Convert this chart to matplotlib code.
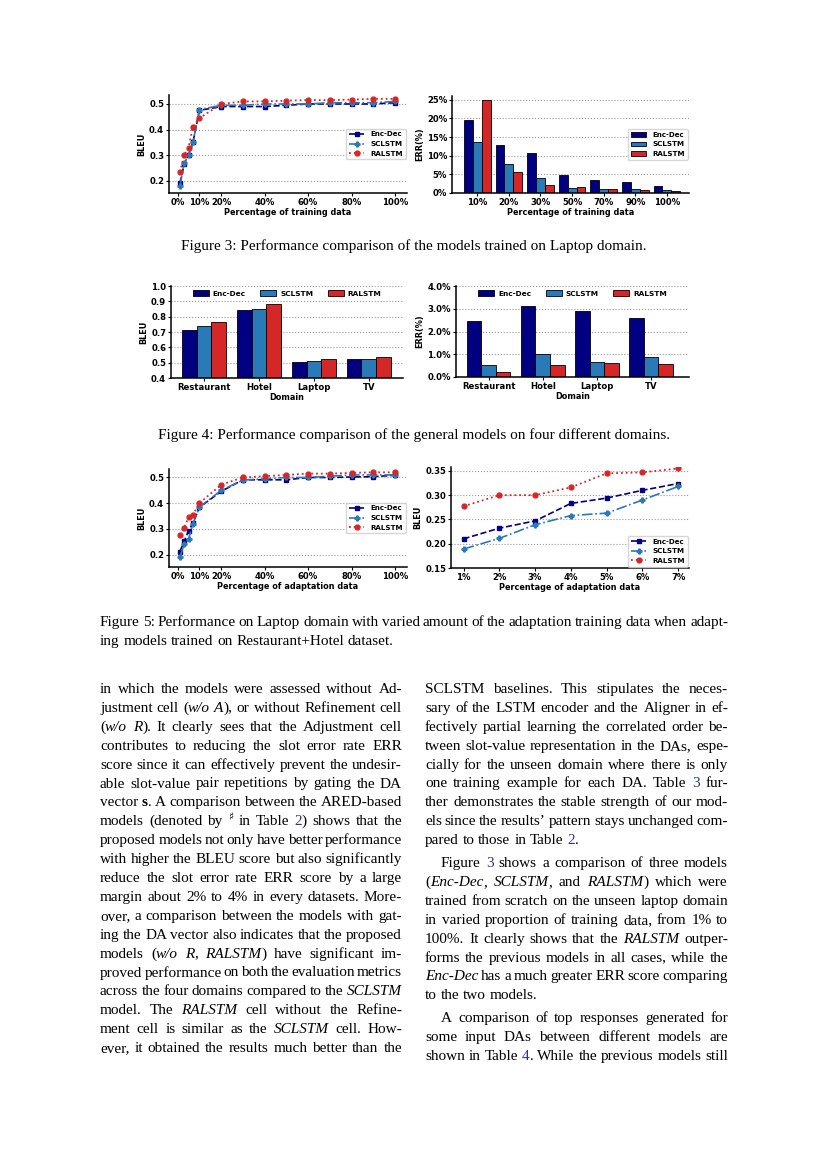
import matplotlib
matplotlib.use('Agg')
import matplotlib.pyplot as plt
from matplotlib.ticker import FuncFormatter

W, H = 826, 1169

# ---------------- data ----------------
models = ['Enc-Dec', 'SCLSTM', 'RALSTM']

# Figure 3 left: BLEU vs percentage of training data (Laptop)
train_pct = [1, 3, 5, 7, 10, 20, 30, 40, 50, 60, 70, 80, 90, 100]
f3_bleu_encdec = [0.191, 0.265, 0.300, 0.350, 0.475, 0.490, 0.490, 0.490, 0.495, 0.500, 0.500, 0.500, 0.500, 0.505]
f3_bleu_sclstm = [0.180, 0.270, 0.300, 0.350, 0.478, 0.495, 0.495, 0.500, 0.500, 0.500, 0.505, 0.505, 0.505, 0.510]
f3_bleu_ralstm = [0.235, 0.300, 0.330, 0.410, 0.445, 0.500, 0.510, 0.510, 0.513, 0.515, 0.515, 0.517, 0.520, 0.520]

# Figure 3 right: ERR vs percentage of training data
err_pct_labels = ['10%', '20%', '30%', '50%', '70%', '90%', '100%']
f3_err_encdec = [19.6, 12.9, 10.7, 4.9, 3.5, 2.85, 2.0]
f3_err_sclstm = [13.7, 7.8, 4.0, 1.25, 1.2, 1.0, 0.7]
f3_err_ralstm = [24.8, 5.6, 2.1, 1.5, 1.2, 0.7, 0.5]

# Figure 4: general models on four domains
domains = ['Restaurant', 'Hotel', 'Laptop', 'TV']
f4_bleu_encdec = [0.712, 0.841, 0.504, 0.522]
f4_bleu_sclstm = [0.741, 0.850, 0.513, 0.526]
f4_bleu_ralstm = [0.763, 0.880, 0.524, 0.537]
f4_err_encdec = [2.46, 3.11, 2.92, 2.59]
f4_err_sclstm = [0.52, 0.99, 0.68, 0.90]
f4_err_ralstm = [0.23, 0.51, 0.60, 0.57]

# Figure 5 left: BLEU vs percentage of adaptation data
adapt_pct = [1, 3, 5, 7, 10, 20, 30, 40, 50, 60, 70, 80, 90, 100]
f5_bleu_encdec = [0.212, 0.252, 0.293, 0.323, 0.384, 0.446, 0.491, 0.491, 0.491, 0.500, 0.500, 0.502, 0.503, 0.509]
f5_bleu_sclstm = [0.190, 0.240, 0.260, 0.320, 0.385, 0.450, 0.490, 0.495, 0.500, 0.500, 0.505, 0.510, 0.510, 0.510]
f5_bleu_ralstm = [0.277, 0.305, 0.345, 0.355, 0.400, 0.472, 0.500, 0.505, 0.510, 0.515, 0.515, 0.518, 0.520, 0.520]

# Figure 5 right: BLEU for 1%..7% adaptation data
small_pct = [1, 2, 3, 4, 5, 6, 7]
f5s_bleu_encdec = [0.210, 0.232, 0.247, 0.283, 0.294, 0.310, 0.324]
f5s_bleu_sclstm = [0.189, 0.211, 0.239, 0.258, 0.263, 0.290, 0.318]
f5s_bleu_ralstm = [0.277, 0.300, 0.300, 0.316, 0.345, 0.347, 0.355]

# ---------------- page text ----------------
caption3 = "Figure 3: Performance comparison of the models trained on Laptop domain."
caption4 = "Figure 4: Performance comparison of the general models on four different domains."
caption5 = ["Figure 5: Performance on Laptop domain with varied amount of the adaptation training data when adapt-",
            "ing models trained on Restaurant+Hotel dataset."]

# markup: ~ italic, ^ bold, @ link colour, # superscript sharp
left_col = [
    "in which the models were assessed without Ad-",
    "justment cell (~w/o A~), or without Refinement cell",
    "(~w/o R~). It clearly sees that the Adjustment cell",
    "contributes to reducing the slot error rate ERR",
    "score since it can effectively prevent the undesir-",
    "able slot-value pair repetitions by gating the DA",
    "vector ^s^. A comparison between the ARED-based",
    "models (denoted by # in Table @2@) shows that the",
    "proposed models not only have better performance",
    "with higher the BLEU score but also significantly",
    "reduce the slot error rate ERR score by a large",
    "margin about 2% to 4% in every datasets. More-",
    "over, a comparison between the models with gat-",
    "ing the DA vector also indicates that the proposed",
    "models (~w/o R~, ~RALSTM~) have significant im-",
    "proved performance on both the evaluation metrics",
    "across the four domains compared to the ~SCLSTM~",
    "model. The ~RALSTM~ cell without the Refine-",
    "ment cell is similar as the ~SCLSTM~ cell. How-",
    "ever, it obtained the results much better than the",
]
right_col = [
    ["SCLSTM baselines. This stipulates the neces-",
     "sary of the LSTM encoder and the Aligner in ef-",
     "fectively partial learning the correlated order be-",
     "tween slot-value representation in the DAs, espe-",
     "cially for the unseen domain where there is only",
     "one training example for each DA. Table @3@ fur-",
     "ther demonstrates the stable strength of our mod-",
     "els since the results\u2019 pattern stays unchanged com-",
     "pared to those in Table @2@."],
    ["Figure @3@ shows a comparison of three models",
     "(~Enc-Dec~, ~SCLSTM~, and ~RALSTM~) which were",
     "trained from scratch on the unseen laptop domain",
     "in varied proportion of training data, from 1% to",
     "100%. It clearly shows that the ~RALSTM~ outper-",
     "forms the previous models in all cases, while the",
     "~Enc-Dec~ has a much greater ERR score comparing",
     "to the two models."],
    ["A comparison of top responses generated for",
     "some input DAs between different models are",
     "shown in Table @4@. While the previous models still"],
]

plt.rcParams['font.weight'] = 'bold'
plt.rcParams['axes.labelweight'] = 'bold'

fig = plt.figure(figsize=(W / 100, H / 100), dpi=100)
renderer = fig.canvas.get_renderer()

SERIF = ['Liberation Serif', 'DejaVu Serif']
LINK = '#2f2f94'
BODY_FS = 11


def parse_line(line):
    """Split a marked-up line into styled pieces: (text, italic, bold, link, sharp, space_before)"""
    pieces = []
    it = bd = lk = False
    first = True
    for word in line.split(' '):
        if word == '':
            continue
        space = not first
        first = False
        buf = ''
        for ch in word:
            if ch in '~^@#':
                if buf:
                    pieces.append((buf, it, bd, lk, False, space))
                    space = False
                    buf = ''
                if ch == '~':
                    it = not it
                elif ch == '^':
                    bd = not bd
                elif ch == '@':
                    lk = not lk
                else:
                    pieces.append(('\u266f', False, False, False, True, space))
                    space = False
            else:
                buf += ch
        if buf:
            pieces.append((buf, it, bd, lk, False, space))
    return pieces


def draw_line(line, x0, x1, y, justify=True, fs=BODY_FS):
    pieces = parse_line(line)
    texts = []
    for txt, it, bd, lk, sharp, sp in pieces:
        if sharp:
            t = fig.text(0, 0, txt, fontsize=fs * 0.7, family=['DejaVu Sans'],
                         fontweight='normal', va='baseline', ha='left')
        else:
            t = fig.text(0, 0, txt, fontsize=fs, family=SERIF,
                         fontstyle='italic' if it else 'normal',
                         fontweight='bold' if bd else 'normal',
                         color=LINK if lk else 'black', va='baseline', ha='left')
        texts.append(t)
    widths = [t.get_window_extent(renderer).width for t in texts]
    nsp = sum(1 for p in pieces if p[5])
    gap = fs * 100 / 72 * 0.25
    if justify and nsp > 0:
        gap = (x1 - x0 - sum(widths)) / nsp
    x = x0
    for t, w, p in zip(texts, widths, pieces):
        if p[5]:
            x += gap
        dy = -5 if p[4] else 0
        t.set_position((x / W, 1 - (y + dy) / H))
        x += w


# body text: left column
LINE = 18.9
for i, line in enumerate(left_col):
    draw_line(line, 100, 402, 693 + i * LINE)

# body text: right column with paragraphs
y = 693
for pi, para in enumerate(right_col):
    for li, line in enumerate(para):
        last = li == len(para) - 1 and pi < len(right_col) - 1
        x0 = 441 if (li == 0 and pi > 0) else 425
        draw_line(line, x0, 728, y, justify=not last)
        y += LINE
    y += 4

# captions
fig.text(414 / W, 1 - 250 / H, caption3, fontsize=BODY_FS, family=SERIF,
         fontweight='normal', ha='center', va='baseline')
fig.text(414 / W, 1 - 439 / H, caption4, fontsize=BODY_FS, family=SERIF,
         fontweight='normal', ha='center', va='baseline')
draw_line(caption5[0], 100, 728, 626)
draw_line(caption5[1], 100, 728, 645, justify=False)

# ---------------- charts ----------------
C_ENC = '#000080'
C_SC = '#2a7ab8'
C_RA = '#d62728'
TFS = 6.1
XFS = 5.9
LFS = 5.1


def add_ax(l, t, r, b):
    return fig.add_axes([l / W, 1 - b / H, (r - l) / W, (b - t) / H])


def style_ax(ax):
    ax.spines['top'].set_visible(False)
    ax.spines['right'].set_visible(False)
    ax.spines['left'].set_linewidth(1.1)
    ax.spines['bottom'].set_linewidth(1.1)
    ax.yaxis.grid(True, linestyle=':', color='#9a9a9a', linewidth=0.8)
    ax.set_axisbelow(True)
    ax.tick_params(labelsize=TFS, length=2, width=0.8, pad=1.5)


def plot_lines(ax, x, enc, sc, ra):
    ax.plot(x, enc, '--', color=C_ENC, marker='s', markersize=3.0, linewidth=1.2, label=models[0])
    ax.plot(x, sc, '-.', color=C_SC, marker='P', markersize=3.5, linewidth=1.2, label=models[1])
    ax.plot(x, ra, ':', color=C_RA, marker='o', markersize=3.5, linewidth=1.3, label=models[2])


def plot_bars(ax, enc, sc, ra, w):
    xs = range(len(enc))
    ax.bar([i - w for i in xs], enc, w, color=C_ENC, edgecolor='black', linewidth=0.6, label=models[0])
    ax.bar([i for i in xs], sc, w, color=C_SC, edgecolor='black', linewidth=0.6, label=models[1])
    ax.bar([i + w for i in xs], ra, w, color=C_RA, edgecolor='black', linewidth=0.6, label=models[2])


pct_fmt = FuncFormatter(lambda v, p: '%d%%' % v)

# Figure 3 left
ax = add_ax(169, 95, 407, 193)
style_ax(ax)
plot_lines(ax, train_pct, f3_bleu_encdec, f3_bleu_sclstm, f3_bleu_ralstm)
ax.set_xlim(-4, 105.5)
ax.set_ylim(0.153, 0.535)
ax.set_xticks([0, 10, 20, 40, 60, 80, 100])
ax.xaxis.set_major_formatter(pct_fmt)
ax.set_yticks([0.2, 0.3, 0.4, 0.5])
ax.set_xlabel('Percentage of training data', fontsize=XFS, labelpad=1)
ax.set_ylabel('BLEU', fontsize=XFS, labelpad=2)
ax.legend(loc='center right', fontsize=LFS, borderaxespad=0.2, handlelength=2.2)

# Figure 3 right
ax = add_ax(452, 96, 689, 193)
style_ax(ax)
plot_bars(ax, f3_err_encdec, f3_err_sclstm, f3_err_ralstm, 0.28)
ax.set_xlim(-0.8, 6.7)
ax.set_ylim(0, 26)
ax.set_xticks(range(len(err_pct_labels)))
ax.set_xticklabels(err_pct_labels)
ax.set_yticks([0, 5, 10, 15, 20, 25])
ax.yaxis.set_major_formatter(pct_fmt)
ax.set_xlabel('Percentage of training data', fontsize=XFS, labelpad=1)
ax.set_ylabel('ERR(%)', fontsize=XFS, labelpad=2)
ax.legend(loc='center right', fontsize=LFS, borderaxespad=0.2, handlelength=2.2)

# Figure 4 left
ax = add_ax(171, 286, 403, 378)
style_ax(ax)
plot_bars(ax, f4_bleu_encdec, f4_bleu_sclstm, f4_bleu_ralstm, 0.27)
ax.set_xlim(-0.6, 3.62)
ax.set_ylim(0.4, 1.0)
ax.set_xticks(range(len(domains)))
ax.set_xticklabels(domains)
ax.set_yticks([0.4, 0.5, 0.6, 0.7, 0.8, 0.9, 1.0])
ax.yaxis.set_major_formatter(FuncFormatter(lambda v, p: '%.1f' % v))
ax.set_xlabel('Domain', fontsize=XFS, labelpad=1)
ax.set_ylabel('BLEU', fontsize=XFS, labelpad=2)
ax.legend(loc='upper center', ncol=3, frameon=False, fontsize=5.3, handlelength=2.2,
          handletextpad=0.5, columnspacing=2.0, borderaxespad=0.2)

# Figure 4 right
ax = add_ax(456, 286, 689, 377)
style_ax(ax)
plot_bars(ax, f4_err_encdec, f4_err_sclstm, f4_err_ralstm, 0.27)
ax.set_xlim(-0.6, 3.7)
ax.set_ylim(0, 4.0)
ax.set_xticks(range(len(domains)))
ax.set_xticklabels(domains)
ax.set_yticks([0, 1, 2, 3, 4])
ax.yaxis.set_major_formatter(FuncFormatter(lambda v, p: '%.1f%%' % v))
ax.set_xlabel('Domain', fontsize=XFS, labelpad=1)
ax.set_ylabel('ERR(%)', fontsize=XFS, labelpad=2)
ax.legend(loc='upper center', ncol=3, frameon=False, fontsize=5.3, handlelength=2.2,
          handletextpad=0.5, columnspacing=2.0, borderaxespad=0.2)

# Figure 5 left
ax = add_ax(169, 469, 407, 567)
style_ax(ax)
plot_lines(ax, adapt_pct, f5_bleu_encdec, f5_bleu_sclstm, f5_bleu_ralstm)
ax.set_xlim(-4, 105.5)
ax.set_ylim(0.152, 0.533)
ax.set_xticks([0, 10, 20, 40, 60, 80, 100])
ax.xaxis.set_major_formatter(pct_fmt)
ax.set_yticks([0.2, 0.3, 0.4, 0.5])
ax.set_xlabel('Percentage of adaptation data', fontsize=XFS, labelpad=1)
ax.set_ylabel('BLEU', fontsize=XFS, labelpad=2)
ax.legend(loc='center right', fontsize=LFS, borderaxespad=0.2, handlelength=2.2)

# Figure 5 right
ax = add_ax(451, 467, 689, 568)
style_ax(ax)
plot_lines(ax, small_pct, f5s_bleu_encdec, f5s_bleu_sclstm, f5s_bleu_ralstm)
ax.set_xlim(0.65, 7.3)
ax.set_ylim(0.15, 0.358)
ax.set_xticks(small_pct)
ax.xaxis.set_major_formatter(pct_fmt)
ax.set_yticks([0.15, 0.20, 0.25, 0.30, 0.35])
ax.yaxis.set_major_formatter(FuncFormatter(lambda v, p: '%.2f' % v))
ax.set_xlabel('Percentage of adaptation data', fontsize=XFS, labelpad=1)
ax.set_ylabel('BLEU', fontsize=XFS, labelpad=2)
ax.legend(loc='lower right', fontsize=LFS, borderaxespad=0.2, handlelength=2.2)

fig.savefig('out.png', dpi=100)
